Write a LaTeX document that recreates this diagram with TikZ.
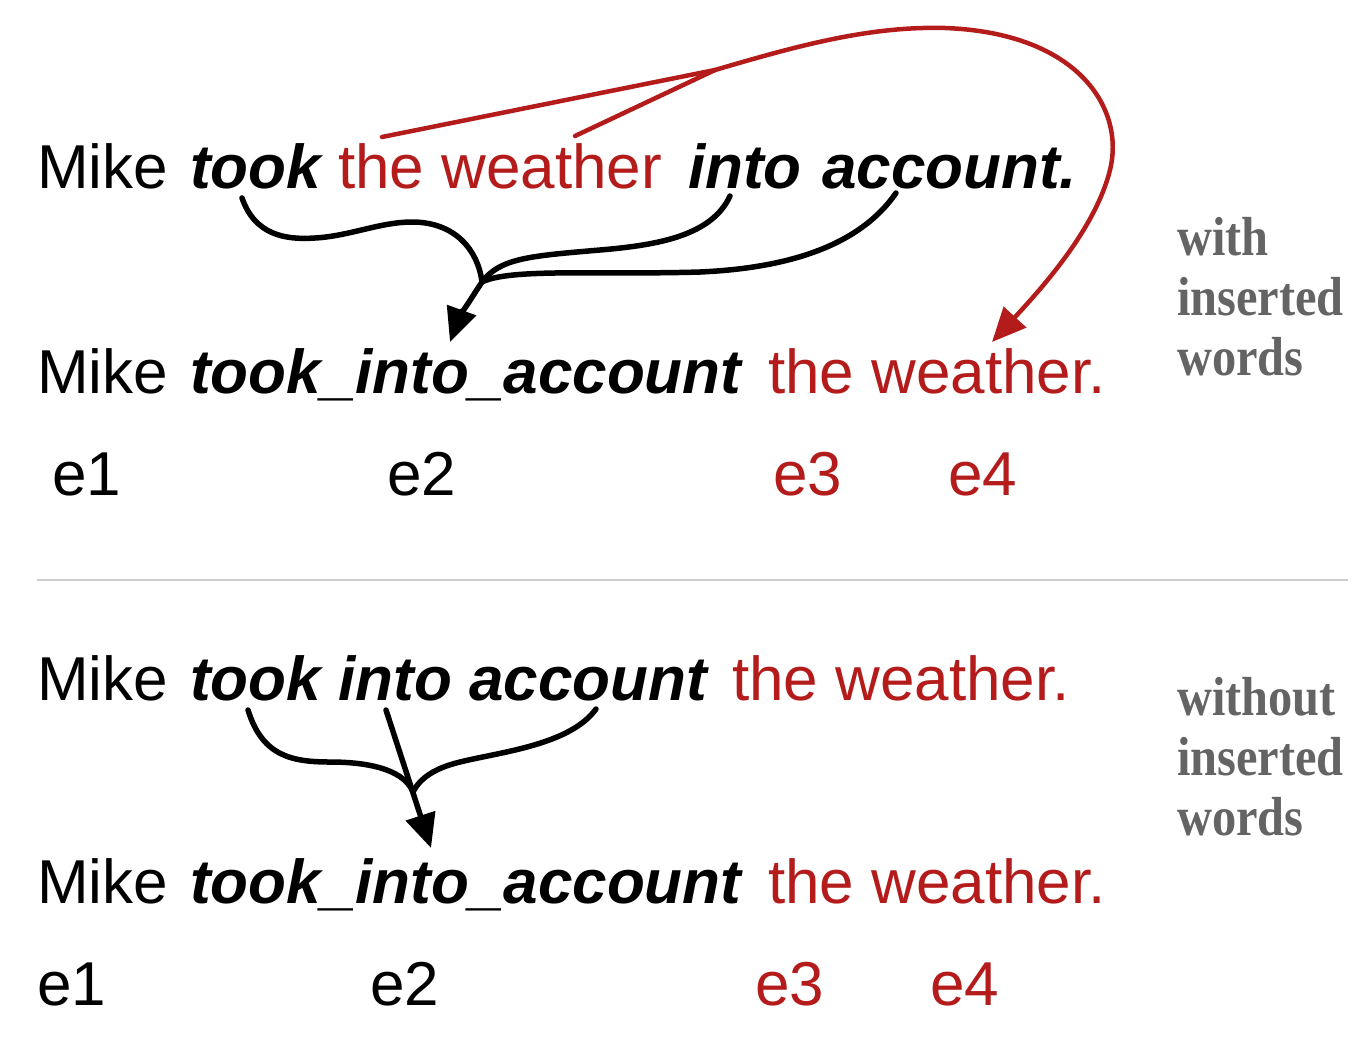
\documentclass[tikz,border=0pt]{standalone}
\usepackage{fontspec}
\setmainfont{Liberation Sans}
\newfontfamily\sidefont[FakeStretch=0.88]{Liberation Serif}
\usetikzlibrary{arrows.meta}
\definecolor{wred}{RGB}{180,28,28}
\definecolor{sidegray}{RGB}{100,100,100}
\definecolor{rulegray}{RGB}{205,205,205}
\tikzset{
  w/.style={anchor=base west, inner sep=0pt, font=\fontsize{62}{70}\selectfont},
  wb/.style={anchor=base west, inner sep=0pt, font=\fontsize{62}{70}\selectfont\bfseries\itshape},
  wr/.style={w, text=wred},
  side/.style={anchor=base west, inner sep=0pt, font=\fontsize{55}{60}\sidefont\bfseries, text=sidegray},
  blk/.style={line width=5.5pt, line cap=round},
  redl/.style={line width=4.5pt, draw=wred, line cap=round},
  tip/.style={-{Triangle[length=34pt,width=30pt]}},
}
\begin{document}
\begin{tikzpicture}[x=1pt,y=-1pt]
\useasboundingbox (0,0) rectangle (1372,1037);
% row 1
\node[w]  (m1)  at (37,188)  {Mike};
\node[wb] (tk1) at (190,188) {took};
\node[wr] (tw1) at (338,188) {the weather};
\node[wb] (in1) at (688,188) {into};
\node[wb] (ac1) at (822,188) {account.};
% row 2
\node[w]  (m2)   at (37,393)  {Mike};
\node[wb] (tia2) at (190,393) {took\_into\_account};
\node[wr] (tw2)  at (768,393) {the weather.};
% row 3
\node[w]  (e1a) at (52,495)  {e1};
\node[w]  (e2a) at (387,495) {e2};
\node[wr] (e3a) at (773,495) {e3};
\node[wr] (e4a) at (948,495) {e4};
% side label 1
\node[side] (sa1) at (1177,255) {with};
\node[side] (sa2) at (1177,315) {inserted};
\node[side] (sa3) at (1177,375) {words};
% rule
\draw[rulegray, line width=2.5pt] (37,580) -- (1348,580);
% row 4
\node[w]  (m4)   at (37,700)  {Mike};
\node[wb] (tia4) at (190,700) {took into account};
\node[wr] (tw4)  at (732,700) {the weather.};
% row 5
\node[w]  (m5)   at (37,903)  {Mike};
\node[wb] (tia5) at (190,903) {took\_into\_account};
\node[wr] (tw5)  at (768,903) {the weather.};
% row 6
\node[w]  (e1b) at (37,1005)  {e1};
\node[w]  (e2b) at (370,1005) {e2};
\node[wr] (e3b) at (755,1005) {e3};
\node[wr] (e4b) at (930,1005) {e4};
% side label 2
\node[side] (sb1) at (1177,715) {without};
\node[side] (sb2) at (1177,775) {inserted};
\node[side] (sb3) at (1177,835) {words};

% arrows row 1 (black)
\coordinate (s1) at (242,198);
\coordinate (s2) at (730,196);
\coordinate (s3) at (896,193);
\coordinate (j1) at (482,282);
\coordinate (t1) at (450,342);
\draw[blk] (s1) .. controls (255,235) and (285,240) .. (315,238)
  .. controls (350,236) and (380,222) .. (412,222)
  .. controls (455,222) and (478,250) .. (j1);
\draw[blk] (s2) .. controls (712,235) and (660,245) .. (600,250)
  .. controls (530,256) and (500,258) .. (j1);
\draw[blk] (s3) .. controls (860,245) and (790,268) .. (700,272)
  .. controls (600,275) and (510,268) .. (j1);
\draw[blk,tip] (j1) .. controls (470,300) and (458,320) .. (t1);

% red arrow
\coordinate (r1) at (382,137);
\coordinate (r2) at (575,136);
\coordinate (rm) at (715,70);
\coordinate (rt) at (992,342);
\draw[redl] (r1) -- (rm);
\draw[redl] (r2) -- (rm);
\draw[redl,tip] (rm) .. controls (800,45) and (870,26) .. (945,28)
  .. controls (1080,33) and (1125,110) .. (1110,170)
  .. controls (1095,230) and (1040,290) .. (rt);

% arrows row 4
\coordinate (u1) at (248,710);
\coordinate (u2) at (386,710);
\coordinate (u3) at (596,709);
\coordinate (j2) at (413,792);
\coordinate (t2) at (431,848);
\draw[blk] (u1) .. controls (262,755) and (290,762) .. (330,762)
  .. controls (375,762) and (405,772) .. (j2);
\draw[blk] (u3) .. controls (570,745) and (500,752) .. (460,762)
  .. controls (435,768) and (420,778) .. (j2);
\draw[blk,tip] (u2) -- (t2);
\end{tikzpicture}
\end{document}
